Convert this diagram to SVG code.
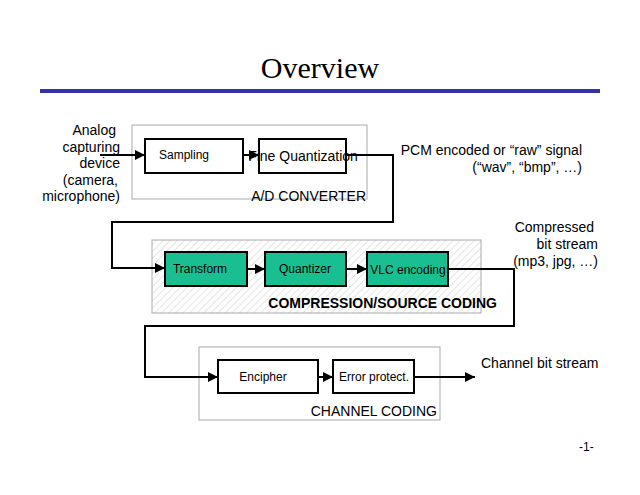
<svg xmlns="http://www.w3.org/2000/svg" width="640" height="495" viewBox="0 0 640 495">
<style>
.t{font-family:"Liberation Sans",Arial,sans-serif;font-size:14px;fill:#000}
.s{font-size:12px}
.grp{fill:none;stroke:#aaa;stroke-width:1}
.b{fill:#fff;stroke:#000;stroke-width:2}
.g{fill:#1abf91;stroke:#000;stroke-width:2}
.c{fill:none;stroke:#000;stroke-width:2}
</style>
<defs>
<marker id="a" viewBox="0 0 10 10" refX="10" refY="5" markerWidth="5" markerHeight="5" orient="auto"><path d="M0,0L10,5L0,10z" fill="#000"/></marker>
<pattern id="h" width="5" height="5" patternUnits="userSpaceOnUse" patternTransform="rotate(45)"><rect width="5" height="5" fill="#fff"/><line x1="0" y1="0" x2="0" y2="5" stroke="#ccc" stroke-width="1"/></pattern>
</defs>
<rect width="640" height="495" fill="#fff"/>
<text x="320" y="78" text-anchor="middle" font-family="'Liberation Serif',serif" font-size="30">Overview</text>
<rect x="40" y="89" width="560" height="4" fill="#3333aa"/>
<g id="adc"><rect class="grp" x="132" y="125" width="235" height="74"/><text class="t" x="366" y="201" text-anchor="end">A/D CONVERTER</text></g>
<g id="comp"><rect x="152" y="240" width="329" height="73" fill="url(#h)" stroke="#aaa"/><text class="t" x="497" y="308" text-anchor="end" font-weight="bold" font-size="13">COMPRESSION/SOURCE CODING</text></g>
<g id="chan"><rect class="grp" x="199" y="347" width="241" height="73"/><text class="t" x="437" y="416" text-anchor="end">CHANNEL CODING</text></g>
<g id="sampling"><rect class="b" x="145" y="139" width="98" height="34"/><text class="t s" x="184" y="159" text-anchor="middle">Sampling</text></g>
<g id="fineq"><rect class="b" x="259" y="139" width="87" height="34"/><text class="t" x="303" y="161" text-anchor="middle" font-size="9.5">Fine Quantization</text></g>
<g id="transform"><rect class="g" x="165" y="252" width="82" height="34"/><text class="t s" x="200" y="273" text-anchor="middle">Transform</text></g>
<g id="quantizer"><rect class="g" x="265" y="252" width="81" height="34"/><text class="t s" x="305" y="273" text-anchor="middle">Quantizer</text></g>
<g id="vlc"><rect class="g" x="367" y="252" width="81" height="34"/><text class="t s" x="408" y="274" text-anchor="middle">VLC encoding</text></g>
<g id="encipher"><rect class="b" x="218" y="360" width="100" height="33"/><text class="t s" x="263" y="381" text-anchor="middle">Encipher</text></g>
<g id="errprot"><rect class="b" x="333" y="360" width="81" height="33"/><text class="t s" x="374" y="381" text-anchor="middle">Error protect.</text></g>
<g id="connectors" class="c">
<path class="c" d="M100,155H145" marker-end="url(#a)"/>
<path class="c" d="M243,155H259" marker-end="url(#a)"/>
<path class="c" d="M346,155H393V222H112V268H165" marker-end="url(#a)"/>
<path class="c" d="M247,269H265" marker-end="url(#a)"/>
<path class="c" d="M346,269H367" marker-end="url(#a)"/>
<path class="c" d="M448,269H514V326H145V377H218" marker-end="url(#a)"/>
<path class="c" d="M318,377H333" marker-end="url(#a)"/>
<path class="c" d="M414,377H475" marker-end="url(#a)"/>
</g>
<g id="labels" class="t">
<text class="t" text-anchor="end" x="116" y="135">Analog</text>
<text class="t" text-anchor="end" x="120" y="152">capturing</text>
<text class="t" text-anchor="end" x="120" y="168">device</text>
<text class="t" text-anchor="end" x="118" y="185">(camera,</text>
<text class="t" text-anchor="end" x="120" y="201">microphone)</text>
<text class="t" text-anchor="end" x="582" y="155">PCM encoded or “raw” signal</text>
<text class="t" text-anchor="end" x="582" y="172">(“wav”, “bmp”, …)</text>
<text class="t" text-anchor="end" x="594" y="232">Compressed</text>
<text class="t" text-anchor="end" x="598" y="249">bit stream</text>
<text class="t" text-anchor="end" x="598" y="266">(mp3, jpg, …)</text>
<text class="t" x="481" y="368">Channel bit stream</text>
<text class="t s" x="579" y="451">-1-</text>
</g>
</svg>
